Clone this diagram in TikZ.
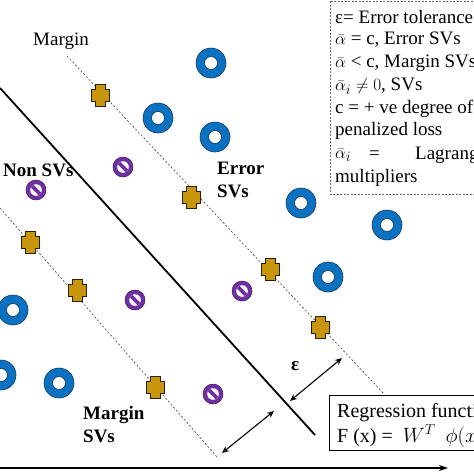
\documentclass[tikz,border=0pt]{standalone}
\usepackage{fontspec}
\setmainfont{Liberation Serif}
\usetikzlibrary{arrows.meta}
\definecolor{ringblue}{HTML}{0A72C0}
\definecolor{ringedge}{HTML}{1A3A60}
\definecolor{nopurple}{HTML}{7030A0}
\definecolor{noedge}{HTML}{3A1860}
\definecolor{gold}{HTML}{C8960C}
\definecolor{goldedge}{HTML}{2A2000}
\tikzset{
  txt/.style={font=\fontsize{19}{23}\selectfont, inner sep=0pt, anchor=west},
  rtxt/.style={font=\fontsize{20}{23}\selectfont, inner sep=0pt, anchor=west},
  btxt/.style={font=\fontsize{19}{23}\selectfont\bfseries, inner sep=0pt, anchor=west, align=left},
  marginline/.style={draw=black!75, line width=0.6pt, dash pattern=on 2pt off 2pt},
  dblarrow/.style={line width=1.1pt, {Stealth[length=7pt,width=6pt]}-{Stealth[length=7pt,width=6pt]}},
  svring/.pic={\fill[ringblue, draw=ringedge, line width=0.6pt, even odd rule] (0,0) circle[radius=15pt] (0,0) circle[radius=6.5pt];},
  svno/.pic={\fill[nopurple, draw=noedge, line width=0.5pt] (0,0) circle[radius=10pt];
             \fill[white] (0,0) circle[radius=5.8pt];
             \begin{scope}\clip (0,0) circle[radius=5.8pt];
             \draw[nopurple, line width=3.6pt] (-6,-6) -- (6,6);\end{scope}},
  svcross/.pic={\fill[gold, draw=goldedge, line width=0.8pt] (-5,-11) -- (5,-11) -- (5,-6) -- (9,-6) -- (9,6) -- (5,6) -- (5,11) -- (-5,11) -- (-5,6) -- (-9,6) -- (-9,-6) -- (-5,-6) -- cycle;}
}
\begin{document}
\begin{tikzpicture}[x=1pt,y=-1pt]
\useasboundingbox (0,0) rectangle (474,474);
\clip (0,0) rectangle (474,474);
\fill[white] (0,0) rectangle (474,474);
% lines
\coordinate (r1) at (0,88); \coordinate (r2) at (315,435);
\draw[line width=1.8pt] (r1) -- (r2);
\coordinate (u1) at (67,56); \coordinate (u2) at (384,394);
\draw[marginline] (u1) -- (u2);
\coordinate (l1) at (0,208); \coordinate (l2) at (217,457);
\draw[marginline] (l1) -- (l2);
% axis
\coordinate (ax1) at (-2,468); \coordinate (ax2) at (448,468);
\draw[line width=1.5pt, -{Stealth[length=9pt,width=6pt]}] (ax1) -- (ax2);
% rings
\foreach \p in {(211,63),(158,118),(215,137),(301,203),(387,225),(328,277),(13,310),(1,375),(59,383)}
  \pic at \p {svring};
% purple
\foreach \p in {(123,167),(36,190),(135,300),(213,394),(242,291)}
  \pic at \p {svno};
% crosses
\foreach \p in {(100,95),(191,197),(270,269),(320,327),(30,242),(77,290),(155,387)}
  \pic at \p {svcross};
% labels
\node[txt] (margin) at (33,41) {Margin};
\node[btxt] (nonsv) at (3,170) {Non SVs};
\node[btxt] (errsv) at (217,180) {Error\\SVs};
\node[btxt] (marsv) at (83,425) {Margin\\SVs};
\node[btxt] (eps) at (291,366) {ε};
% arrows
\coordinate (e1) at (290,401); \coordinate (e2) at (342,358);
\draw[dblarrow] (e1) -- (e2);
\coordinate (f1) at (222,453); \coordinate (f2) at (274,411);
\draw[dblarrow] (f1) -- (f2);
% legend box
\draw[black!60, line width=0.7pt, dash pattern=on 2pt off 1.5pt] (330,1) rectangle (490,194);
\node[txt] (lg1) at (335,17) {ε= Error tolerance};
\node[txt] (lg2) at (335,40) {$\bar{\alpha}$ = c, Error SVs};
\node[txt] (lg3) at (335,63) {$\bar{\alpha}$ < c, Margin SVs};
\node[txt] (lg4) at (335,86) {$\bar{\alpha}_i \neq 0$, SVs};
\node[txt] (lg5) at (335,109) {c = + ve degree of};
\node[txt] (lg6) at (335,131) {penalized loss};
\node[txt] (lg7a) at (335,155) {$\bar{\alpha}_i$};
\node[txt] (lg7b) at (369,155) {=};
\node[txt] (lg7c) at (415,155) {Lagrange};
\node[txt] (lg8) at (335,178) {multipliers};
% regression box
\draw[line width=0.9pt] (329,395) rectangle (490,450);
\node[rtxt] (rg1) at (337,413) {Regression function};
\node[rtxt] (rg2) at (337,436) {F (x) = \ $W^T$\ \ $\phi(x)$ + b};
\end{tikzpicture}
\end{document}
